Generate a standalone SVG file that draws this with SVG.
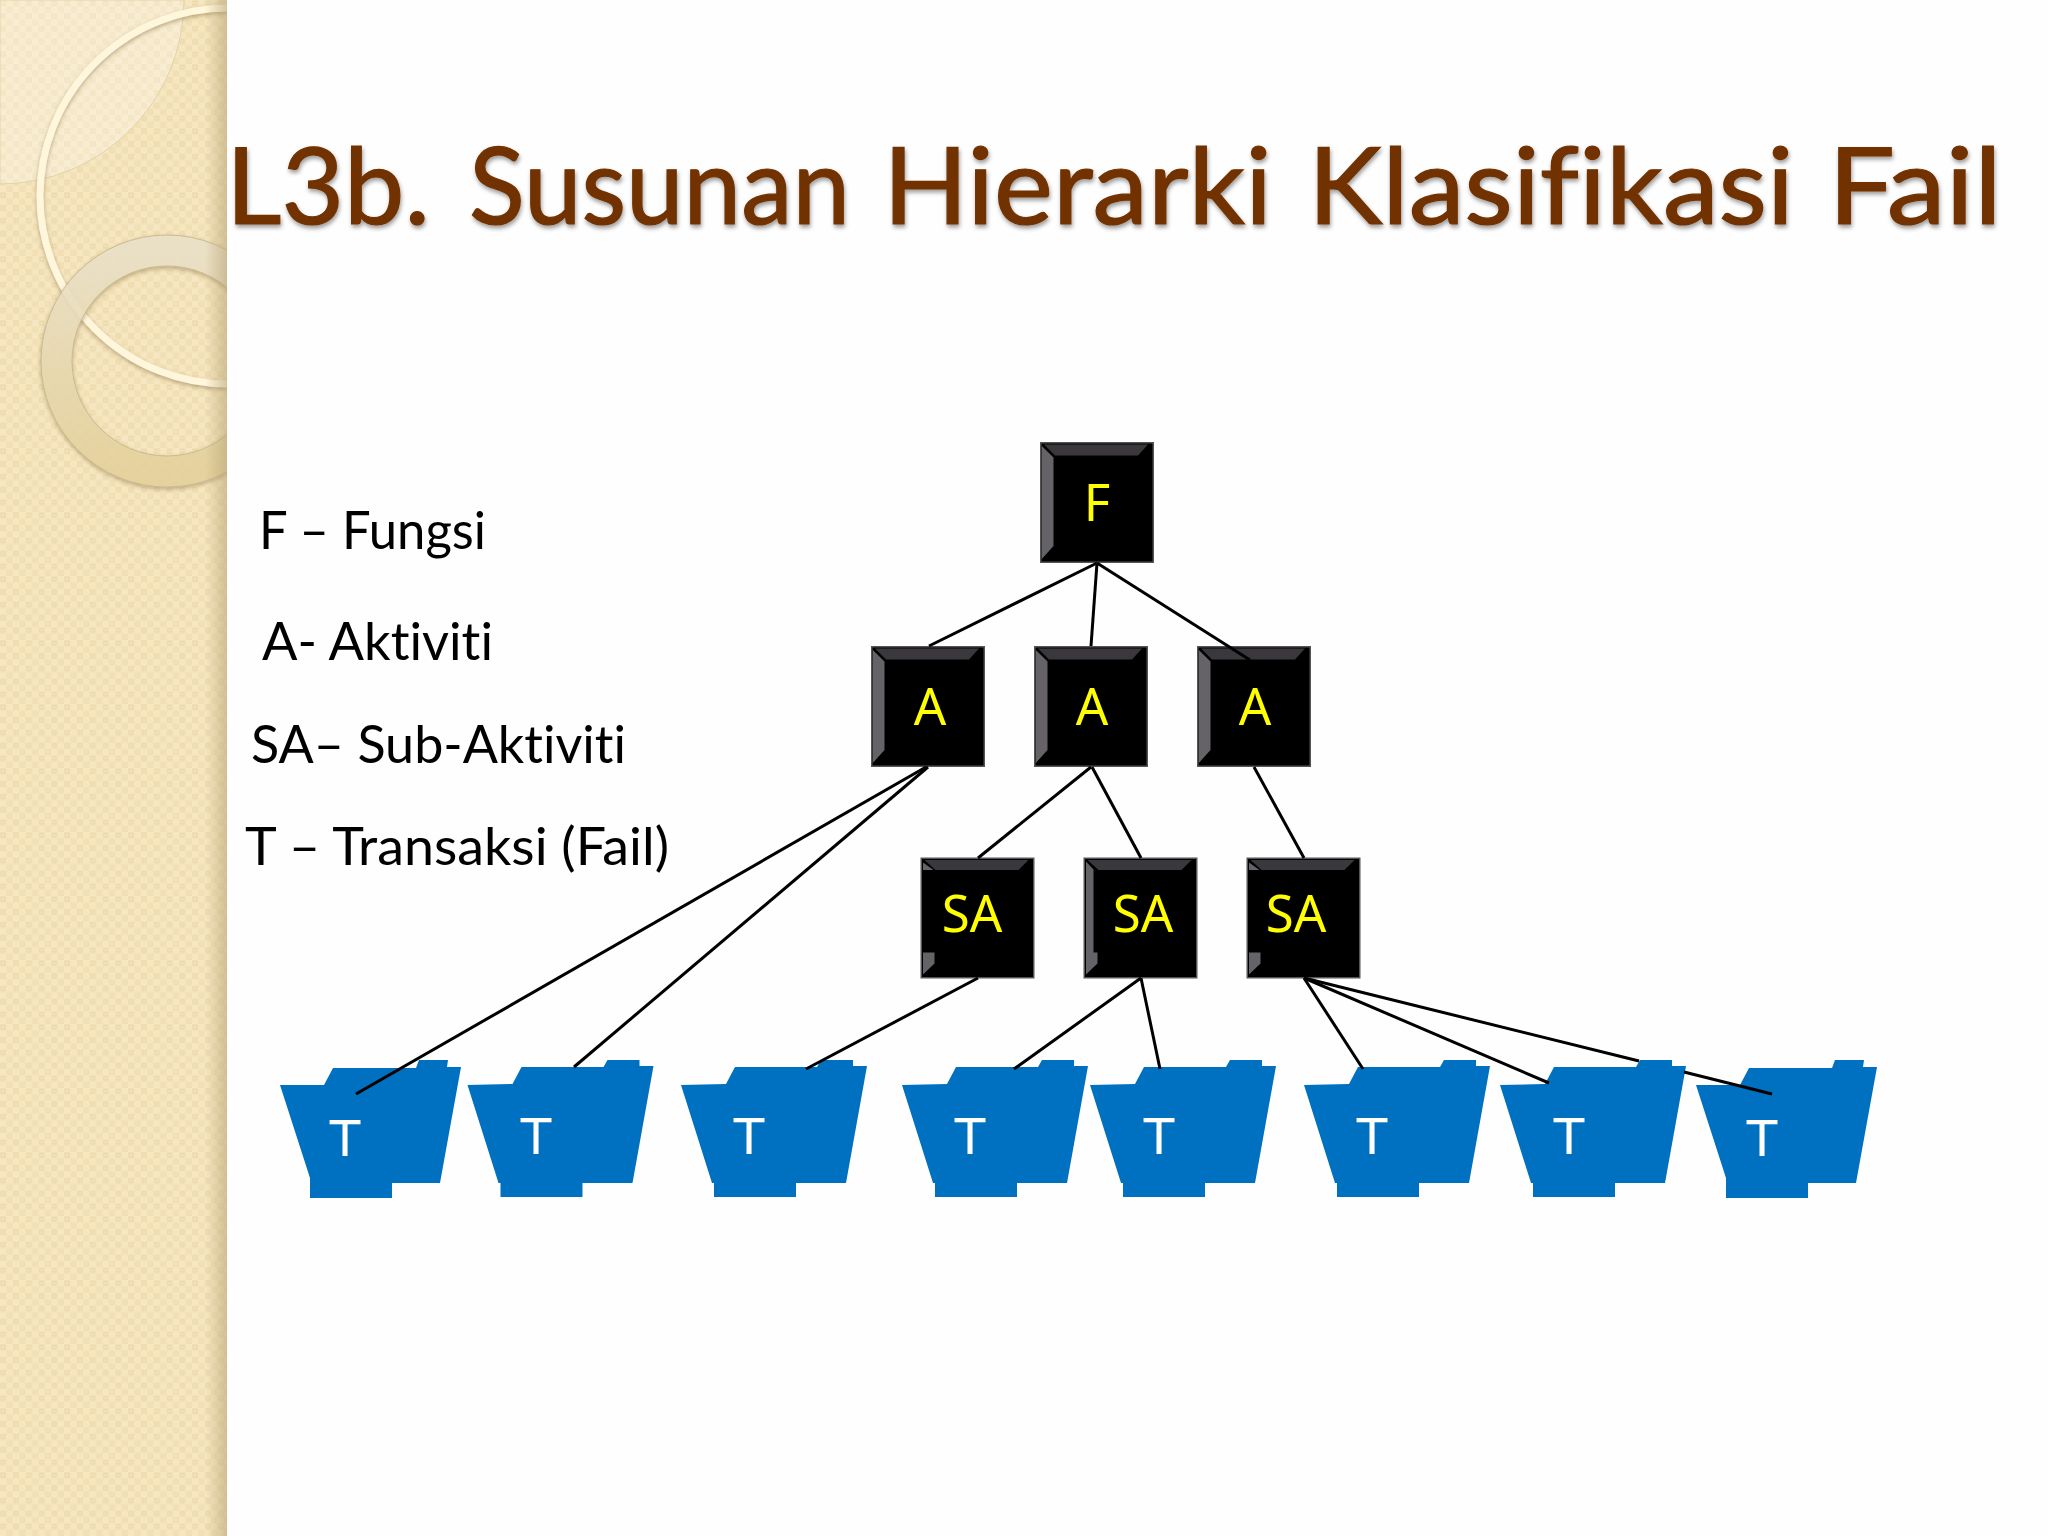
<svg xmlns="http://www.w3.org/2000/svg" width="2048" height="1536" viewBox="0 0 2048 1536">
<style>
.title{font-family:"Lato","Liberation Sans",sans-serif;font-size:106px;fill:#713206;stroke:#713206;stroke-width:1.2;font-variant-ligatures:none}
.leg{font-family:"Lato","Liberation Sans",sans-serif;font-size:53px;fill:#000;font-variant-ligatures:none}
.lab{font-family:"Noto Sans","DejaVu Sans",sans-serif;font-size:51px;fill:#ffff00;text-anchor:middle}
.tl{font-family:"DejaVu Sans",sans-serif;font-size:50px;fill:#fff;text-anchor:middle}
.c line{stroke:#000;stroke-width:3}
.fo{fill:#0070c0}
</style>
<defs>
<filter id="ts" x="-2%" y="-10%" width="104%" height="130%"><feDropShadow dx="1" dy="3" stdDeviation="2.2" flood-color="#000" flood-opacity=".38"/></filter>
<filter id="rs" x="-10%" y="-10%" width="120%" height="120%"><feDropShadow dx="0" dy="2" stdDeviation="2" flood-color="#7a6235" flood-opacity=".5"/></filter>
<pattern id="chk" width="12.8" height="12.8" patternUnits="userSpaceOnUse">
<rect width="12.8" height="12.8" fill="#f2e0b4"/>
<rect x="6.4" width="6.4" height="6.4" fill="#f6e6c2"/>
<rect y="6.4" width="6.4" height="6.4" fill="#f6e6c2"/>
<rect x="1.2" y="1.2" width="4" height="4" fill="#ebd9a8"/>
<rect x="2.400" y="2.400" width="1.600" height="1.600" fill="#f8ecd0"/>
</pattern>
<linearGradient id="edge" x1="0" x2="1" y1="0" y2="0"><stop offset="0" stop-color="#b9a678" stop-opacity="0"/><stop offset="1" stop-color="#b9a678" stop-opacity=".6"/></linearGradient>
<linearGradient id="ring" x1="0" x2="0" y1="0" y2="1"><stop offset="0" stop-color="#e9e0c8"/><stop offset="1" stop-color="#e4d09a"/></linearGradient>
<clipPath id="side"><rect width="227" height="1536"/></clipPath>
<g id="box">
<rect x=".75" y=".75" width="112.5" height="119.5" fill="#000" stroke="#555" stroke-width="1.5"/>
<polygon points="4,2.500 108,2.500 98,13.500 15,13.500" fill="#3a383c"/>
<polygon points="1.800,4 13.500,15.500 13.500,104 1.800,117" fill="#656367"/>
</g>
<g id="boxs">
<rect x=".75" y=".75" width="112.5" height="119.5" fill="#000" stroke="#555" stroke-width="1.5"/>
<polygon points="4,2.500 108,2.500 98,12.500 15,12.500" fill="#3a383c"/>
<polygon points="2.500,5 13,12.500 2.500,12.500" fill="#656367"/>
<polygon points="2.500,95 14,95 14,106 2.500,117" fill="#656367"/>
</g>
<g id="boxm">
<rect x=".75" y=".75" width="112.5" height="119.5" fill="#000" stroke="#555" stroke-width="1.5"/>
<polygon points="4,2.500 108,2.500 98,12.500 15,12.500" fill="#3a383c"/>
<polygon points="2.500,4 10,12 10,95 14,95 14,106 2.500,117" fill="#656367"/>
</g>
<polygon id="fa" class="fo" points="0,0 44,0 53,-17 136,-17 139,-25 168,-25 167,-18 181,-18 160,98 112,98 112,113 30,113 30,93"/>
<polygon id="fb" class="fo" points="0,0 45,-1 54,-18 136,-18 140,-25 172,-25 172,-19 186,-19 165,98 115,98 115,112 33,112 33,98 31,98"/>
</defs>
<rect width="2048" height="1536" fill="#fefefe"/>
<g id="sidebar">
<rect width="227" height="1536" fill="url(#chk)"/>
<g clip-path="url(#side)">
<path d="M0 0H184A184 184 0 0 1 0 184Z" fill="#fff" fill-opacity=".28" stroke="#e3d3a8" stroke-width="1"/>
<circle cx="228" cy="196" r="188" fill="none" stroke="#fff6dc" stroke-width="7" filter="url(#rs)"/>
<g filter="url(#rs)" opacity=".88">
<circle cx="167" cy="361" r="110.500" fill="none" stroke="url(#ring)" stroke-width="31"/>
<circle cx="167" cy="361" r="126" fill="none" stroke="#c6b58a" stroke-width="1"/>
<circle cx="167" cy="361" r="95" fill="none" stroke="#c6b58a" stroke-width="1"/>
</g>
<rect x="205" width="22" height="1536" fill="url(#edge)"/>
</g>
</g>
<g id="title" filter="url(#ts)">
<text class="title" x="226" y="224" textLength="204" lengthAdjust="spacingAndGlyphs">L3b.</text>
<text class="title" x="469" y="224" textLength="381" lengthAdjust="spacingAndGlyphs">Susunan</text>
<text class="title" x="883" y="224" textLength="389" lengthAdjust="spacingAndGlyphs">Hierarki</text>
<text class="title" x="1308" y="224" textLength="486" lengthAdjust="spacingAndGlyphs">Klasifikasi</text>
<text class="title" x="1828" y="224" textLength="174" lengthAdjust="spacingAndGlyphs">Fail</text>
</g>
<g id="legend">
<text class="leg" x="259" y="549" textLength="227" lengthAdjust="spacingAndGlyphs">F – Fungsi</text>
<text class="leg" x="262" y="660" textLength="231" lengthAdjust="spacingAndGlyphs">A- Aktiviti</text>
<text class="leg" x="251" y="763" textLength="375" lengthAdjust="spacingAndGlyphs">SA– Sub-Aktiviti</text>
<text class="leg" x="245" y="865" textLength="424" lengthAdjust="spacingAndGlyphs">T – Transaksi (Fail)</text>
</g>
<g id="node-F"><use href="#box" x="1040" y="442"/><text class="lab" x="1097" y="521">F</text></g>
<g id="node-A1"><use href="#box" x="871" y="646"/><text class="lab" x="930" y="725">A</text></g>
<g id="node-A2"><use href="#box" x="1034" y="646"/><text class="lab" x="1092" y="725">A</text></g>
<g id="node-A3"><use href="#box" x="1197" y="646"/><text class="lab" x="1255" y="725">A</text></g>
<g id="node-SA1"><use href="#boxs" x="920.500" y="857.500"/><text class="lab" x="972" y="932">SA</text></g>
<g id="node-SA2"><use href="#boxm" x="1083.500" y="857.500"/><text class="lab" x="1143" y="932">SA</text></g>
<g id="node-SA3"><use href="#boxs" x="1246.500" y="857.500"/><text class="lab" x="1296" y="932">SA</text></g>
<g id="node-T1"><use href="#fa" x="280" y="1085"/><text class="tl" x="345" y="1156">T</text></g>
<g id="node-T2"><use href="#fb" x="467.500" y="1085"/><text class="tl" x="536" y="1154">T</text></g>
<g id="node-T3"><use href="#fb" x="681" y="1085"/><text class="tl" x="749" y="1154">T</text></g>
<g id="node-T4"><use href="#fb" x="902" y="1085"/><text class="tl" x="970" y="1154">T</text></g>
<g id="node-T5"><use href="#fb" x="1090" y="1085"/><text class="tl" x="1159" y="1154">T</text></g>
<g id="node-T6"><use href="#fb" x="1304" y="1085"/><text class="tl" x="1372" y="1154">T</text></g>
<g id="node-T7"><use href="#fb" x="1500" y="1085"/><text class="tl" x="1569" y="1154">T</text></g>
<g id="node-T8"><use href="#fa" x="1696" y="1085"/><text class="tl" x="1762" y="1156">T</text></g>
<g id="connectors" class="c">
<line x1="1097" y1="563" x2="929" y2="646"/>
<line x1="1097" y1="563" x2="1091" y2="646"/>
<line x1="1097" y1="563" x2="1250" y2="660"/>
<line x1="926" y1="767" x2="356" y2="1094"/>
<line x1="928" y1="767" x2="574" y2="1067"/>
<line x1="1091" y1="767" x2="978" y2="858"/>
<line x1="1092" y1="767" x2="1141" y2="858"/>
<line x1="1254" y1="767" x2="1304" y2="858"/>
<line x1="978" y1="978" x2="806" y2="1069"/>
<line x1="1141" y1="978" x2="1014" y2="1069"/>
<line x1="1141" y1="978" x2="1160" y2="1069"/>
<line x1="1304" y1="978" x2="1363" y2="1069"/>
<line x1="1304" y1="978" x2="1549" y2="1083"/>
<line x1="1304" y1="978" x2="1639" y2="1061"/>
<line x1="1684" y1="1072" x2="1772" y2="1094"/>
</g>
</svg>
